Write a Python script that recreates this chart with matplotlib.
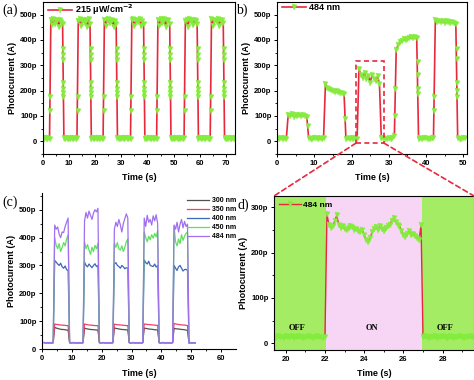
import numpy as np
import matplotlib.pyplot as plt
from matplotlib.patches import Rectangle, ConnectionPatch

plt.rcParams['font.family'] = ['Liberation Sans', 'DejaVu Sans']
plt.rcParams['font.weight'] = 'bold'
plt.rcParams['axes.linewidth'] = 0.8
plt.rcParams['xtick.direction'] = 'out'
plt.rcParams['ytick.direction'] = 'out'
plt.rcParams['xtick.major.size'] = 2.5
plt.rcParams['ytick.major.size'] = 2.5
plt.rcParams['xtick.minor.size'] = 1.5
plt.rcParams['ytick.minor.size'] = 1.5
plt.rcParams['xtick.major.pad'] = 1.5
plt.rcParams['ytick.major.pad'] = 1.5

RED = '#e8283c'
GREEN = '#84ec3c'

# ---- (a) 215 uW/cm-2, sampled every 0.5 s (pA)
t_a = np.arange(148) * 0.5
i_a = [12, 10, 13, 11, 12, 10,
       478, 458, 482, 465, 475, 480, 452, 477, 471, 462,
       12, 11, 13, 10, 12, 11, 13, 10, 12, 11, 12,
       476, 482, 455, 474, 480, 466, 478, 450, 481, 465,
       11, 13, 10, 12, 11, 12, 13, 10, 12, 11,
       480, 456, 477, 483, 466, 475, 479, 452, 476, 463,
       12, 10, 13, 11, 12, 10, 12, 13, 11, 12, 10,
       477, 481, 454, 474, 479, 470, 483, 456, 475, 464,
       11, 12, 10, 13, 12, 11, 12, 10, 13, 11,
       479, 455, 481, 467, 476, 482, 453, 475, 478, 465,
       12, 10, 11, 13, 12, 10, 12, 11, 13, 10, 12,
       475, 480, 452, 483, 472, 477, 458, 479, 474, 462,
       11, 13, 12, 10, 12, 11, 13, 12, 10, 11,
       481, 455, 476, 479, 471, 483, 454, 475, 480, 466,
       12, 10, 13, 11, 12, 10, 12, 11, 13]
a_rise_t = [2.75, 13.25, 23.25, 33.75, 43.75, 54.25, 64.25]
a_rise_i = [120, 175]
a_fall_t = [7.75, 18.25, 28.25, 38.75, 48.75, 59.25, 69.25]
a_fall_i = [365, 340, 320, 230, 205, 190, 175]

# ---- (b) 484 nm, sampled every 0.5 s (pA)
t_b = np.arange(102) * 0.5
i_b = [12, 10, 13, 11, 12, 10,
       104, 100, 106, 98, 103, 101, 105, 99, 102, 100, 97,
       12, 11, 10, 13, 12, 11, 12, 10, 13,
       226, 212, 205, 202, 199, 196, 198, 194, 192, 190, 188,
       11, 12, 10, 13, 11, 12, 10,
       285, 262, 250, 270, 245, 258, 232, 262, 248, 240, 256, 228,
       12, 13, 11, 10, 12, 11, 13, 20,
       362, 380, 392, 398, 402, 400, 405, 407, 410, 406, 412, 408,
       11, 12, 10, 13, 12, 11, 10, 12, 13,
       478, 472, 476, 470, 474, 468, 475, 471, 469, 473, 466, 462,
       12, 10, 11, 13, 12]
b_edge_t = [8.25, 18.25, 31.75, 31.75, 37.75, 37.75, 37.75, 37.75,
            42.25, 42.25, 48.25, 48.25, 48.25, 48.25, 48.25]
b_edge_i = [60, 90, 100, 205, 315, 260, 205, 185,
            120, 175, 365, 325, 230, 200, 175]
b_box = [21.2, 28.7, -7, 319]

# ---- (c) wavelength series, sampled every 0.5 s from 0.75 s (pA)
t_c = 0.75 + np.arange(102) * 0.5
c_off_first = [23, 22, 23, 22, 23, 22, 23]
c_off_mid = [23, 22, 23, 23, 22, 23, 22, 23, 22, 23]
c_off_last = [22, 23, 22, 23, 22]
c_on = {
    '300 nm': [[78, 75, 74, 72, 71, 70, 70, 69, 68, 68],
               [75, 73, 72, 71, 70, 70, 69, 69, 68, 68],
               [76, 74, 73, 72, 71, 70, 70, 69, 69, 68],
               [75, 74, 73, 72, 71, 71, 70, 69, 69, 68],
               [74, 73, 72, 72, 71, 70, 70, 69, 68, 67]],
    '350 nm': [[90, 88, 88, 87, 86, 86, 85, 85, 84, 84],
               [90, 88, 87, 86, 86, 85, 85, 84, 84, 84],
               [89, 88, 87, 87, 86, 86, 85, 85, 84, 84],
               [90, 89, 88, 88, 87, 87, 86, 86, 85, 85],
               [92, 90, 89, 88, 87, 87, 86, 86, 85, 84]],
    '400 nm': [[318, 312, 305, 300, 308, 295, 290, 298, 285, 282],
               [312, 300, 295, 305, 298, 292, 300, 306, 296, 300],
               [305, 310, 300, 296, 290, 300, 295, 288, 292, 290],
               [320, 310, 305, 315, 300, 298, 296, 305, 294, 300],
               [300, 290, 282, 295, 300, 290, 280, 285, 286, 282]],
    '450 nm': [[400, 372, 360, 378, 350, 365, 382, 370, 395, 410],
               [385, 360, 375, 355, 340, 365, 350, 372, 360, 380],
               [380, 365, 382, 360, 355, 370, 350, 365, 385, 395],
               [420, 400, 385, 405, 392, 410, 398, 415, 402, 425],
               [440, 385, 370, 395, 378, 410, 390, 405, 415, 420]],
    '484 nm': [[445, 430, 438, 412, 400, 420, 418, 440, 455, 470],
               [460, 490, 470, 495, 480, 465, 488, 500, 492, 505],
               [430, 455, 440, 465, 445, 420, 450, 468, 485, 470],
               [470, 440, 480, 455, 465, 445, 478, 460, 482, 450],
               [445, 430, 455, 420, 448, 465, 435, 458, 440, 448]],
}
c_colors = ['#505050', '#f0406a', '#3a68b8', '#5ee05e', '#a070f0']

# ---- (d) zoom of the 484 nm pulse, sampled every 0.1 s (pA)
t_d = np.arange(194, 297) / 10
i_d = [14, 12, 15, 13, 14, 12, 15, 14, 13, 15, 12, 14, 13, 15, 14, 12, 14, 13,
       15, 14, 12, 13, 15, 14, 13, 12, 14,
       285, 262, 255, 258, 270, 282, 262, 255, 258,
       252, 250, 255, 258, 256, 250, 252, 248, 245, 250,
       238, 228, 224, 232, 245, 252, 256, 250, 258, 252,
       248, 255, 258, 262, 270, 276, 268, 262, 258, 248,
       240, 235, 242, 248, 238, 242, 236, 232, 228, 262,
       13, 15, 14, 12, 14, 13, 15, 12, 14, 13, 15, 14, 12, 14, 15, 13, 12, 14,
       13, 15, 14, 12, 13, 14, 15, 13, 14]
d_on = [22.05, 26.95]
d_states = ['OFF', 'ON', 'OFF']
d_state_x = [20.55, 24.4, 28.1]

yt_ab = [0, 100, 200, 300, 400, 500]
yl_ab = ['0', '100p', '200p', '300p', '400p', '500p']
yt_d = [0, 100, 200, 300]
yl_d = ['0', '100p', '200p', '300p']

W, H = 474, 380
fig = plt.figure(figsize=(4.74, 3.80), dpi=100)


def box(l, r, b, t):
    return [l / W, 1 - b / H, (r - l) / W, (b - t) / H]


ax_a = fig.add_axes(box(43, 235, 154, 2))
ax_b = fig.add_axes(box(277, 467, 154, 2))
ax_c = fig.add_axes(box(42, 236, 349, 193))
ax_d = fig.add_axes(box(274, 474, 350, 196))

tick_fs = 5.5
lab_fs = 6.5
mk = dict(marker='v', markersize=3.6, markerfacecolor=GREEN,
          markeredgecolor=GREEN, markeredgewidth=0.3)


def style(ax, xticks, yticks, ylabels, xminor=None, yminor=None):
    ax.set_xticks(xticks)
    ax.set_xticklabels([str(x) for x in xticks])
    ax.set_yticks(yticks)
    ax.set_yticklabels(ylabels)
    if xminor is not None:
        ax.set_xticks(xminor, minor=True)
    if yminor is not None:
        ax.set_yticks(yminor, minor=True)
    ax.tick_params(labelsize=tick_fs, width=0.7)
    ax.tick_params(which='minor', width=0.6)
    ax.set_xlabel('Time (s)', fontsize=lab_fs, fontweight='bold', labelpad=5)
    ax.set_ylabel('Photocurrent (A)', fontsize=lab_fs, fontweight='bold', labelpad=2)


# (a)
ax_a.plot(t_a, i_a, color=RED, lw=1.2, label='215 μW/cm$^{\\mathbf{-2}}$', **mk)
for t in a_rise_t:
    ax_a.plot([t] * len(a_rise_i), a_rise_i, ls='none', **mk)
for t in a_fall_t:
    ax_a.plot([t] * len(a_fall_i), a_fall_i, ls='none', **mk)
ax_a.set_xlim(0, 73.5)
ax_a.set_ylim(-50, 550)
style(ax_a, list(range(0, 71, 10)), yt_ab, yl_ab,
      xminor=np.arange(5, 71, 10), yminor=np.arange(-50, 550, 100))
ax_a.legend(loc='upper left', bbox_to_anchor=(0.0, 1.03), frameon=False,
            fontsize=6.5, handlelength=2.6, numpoints=1, borderaxespad=0.2,
            handletextpad=0.3)

# (b)
ax_b.plot(t_b, i_b, color=RED, lw=1.2, label='484 nm', **mk)
ax_b.plot(b_edge_t, b_edge_i, ls='none', **mk)
ax_b.add_patch(Rectangle((b_box[0], b_box[2]), b_box[1] - b_box[0], b_box[3] - b_box[2],
                         fill=False, ec=RED, lw=1.2, ls=(0, (3, 2)), zorder=5))
ax_b.set_xlim(0, 51)
ax_b.set_ylim(-50, 550)
style(ax_b, list(range(0, 51, 10)), yt_ab, yl_ab,
      xminor=np.arange(5, 51, 10), yminor=np.arange(-50, 550, 100))
ax_b.legend(loc='upper left', bbox_to_anchor=(0.0, 1.03), frameon=False,
            fontsize=6.5, handlelength=2.6, numpoints=1, borderaxespad=0.2,
            handletextpad=0.3)

# (c)
for (name, cycles), col in zip(c_on.items(), c_colors):
    vals = c_off_first[:]
    for n, cyc in enumerate(cycles):
        vals += cyc
        vals += c_off_mid if n < len(cycles) - 1 else c_off_last
    ax_c.plot(t_c, vals, color=col, lw=0.9, label=name)
ax_c.set_xlim(0, 65)
ax_c.set_ylim(0, 560)
for s in ['top', 'right']:
    ax_c.spines[s].set_visible(False)
style(ax_c, list(range(0, 61, 10)), yt_ab, yl_ab,
      xminor=np.arange(5, 61, 10), yminor=np.arange(50, 551, 100))
ax_c.legend(loc='upper right', bbox_to_anchor=(236 / W, 1 - 197 / H),
            bbox_transform=fig.transFigure, frameon=False, fontsize=5,
            handlelength=3.2, labelspacing=0.3, borderaxespad=0, borderpad=0,
            handletextpad=0.4)

# (d)
ax_d.axvspan(19.4, d_on[0], color='#a4ec64', lw=0, zorder=0)
ax_d.axvspan(d_on[0], d_on[1], color='#f6d6f4', lw=0, zorder=0)
ax_d.axvspan(d_on[1], 29.6, color='#a4ec64', lw=0, zorder=0)
ax_d.plot(t_d, i_d, color=RED, lw=1.0, label='484 nm', **mk)
for x, s in zip(d_state_x, d_states):
    ax_d.text(x, 33, s, family='Liberation Serif', fontsize=6, fontweight='bold',
              ha='center', va='center')
ax_d.set_xlim(19.4, 29.6)
ax_d.set_ylim(-15, 325)
style(ax_d, [20, 22, 24, 26, 28], yt_d, yl_d,
      xminor=np.arange(21, 30, 2), yminor=np.arange(50, 301, 100))
ax_d.spines['right'].set_color('#777777')
ax_d.legend(loc='upper left', bbox_to_anchor=(0.0, 1.0), frameon=False,
            fontsize=6, handlelength=2.6, numpoints=1, borderaxespad=0.2,
            handletextpad=0.3)

# connectors from the dashed box to panel (d)
for bx, fx in [(b_box[0], 0.0), (b_box[1], 1.0)]:
    con = ConnectionPatch(xyA=(bx, b_box[2]), coordsA=ax_b.transData,
                          xyB=(fx, 1.0), coordsB=ax_d.transAxes,
                          color=RED, lw=1.2, ls=(0, (3, 2)))
    fig.add_artist(con)

# panel letters
lf = dict(family='Liberation Serif', fontsize=10, fontweight='normal', va='center')
fig.text(2 / W, 1 - 10 / H, '(a)', **lf)
fig.text(236 / W, 1 - 10 / H, 'b)', **lf)
fig.text(2 / W, 1 - 202 / H, '(c)', **lf)
fig.text(237 / W, 1 - 205 / H, 'd)', **lf)

fig.savefig('out.png', dpi=100)
